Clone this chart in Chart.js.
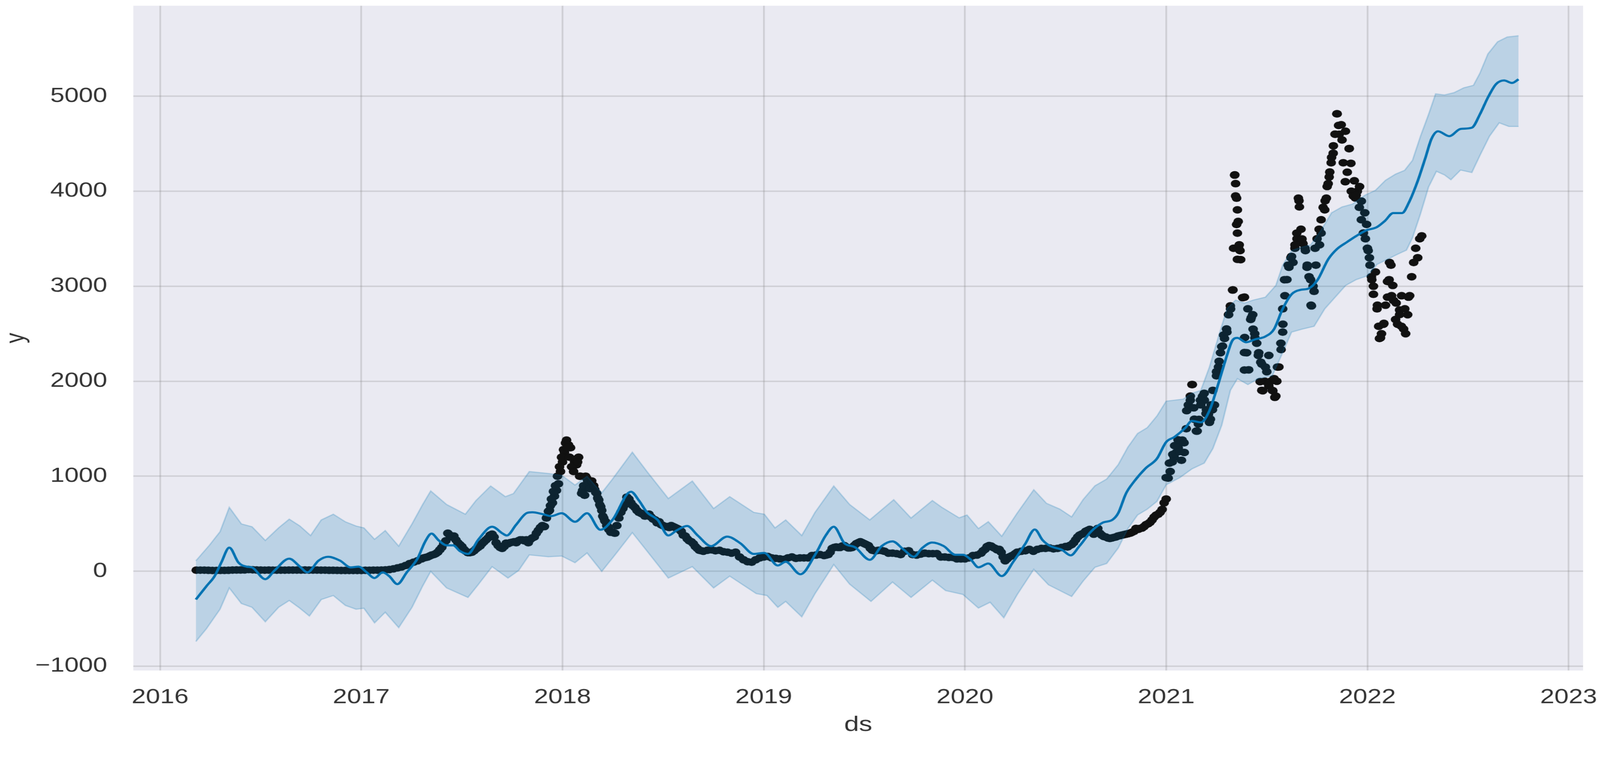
<!DOCTYPE html>
<html>
<head>
<meta charset="utf-8">
<script src="https://cdn.jsdelivr.net/npm/chart.js@4.4.1/dist/chart.umd.min.js"></script>
<style>
html,body{margin:0;padding:0;background:#ffffff;overflow:hidden}
</style>
</head>
<body>
<canvas id="c" width="3313" height="1945" style="display:block;width:100vw;height:calc(100vw * 1945 / 4208)"></canvas>
<script>
// ---------- tick labels ----------
const xTicks = [2016, 2017, 2018, 2019, 2020, 2021, 2022, 2023];
const xTickLabels = ['2016', '2017', '2018', '2019', '2020', '2021', '2022', '2023'];
const yTicks = [-1000, 0, 1000, 2000, 3000, 4000, 5000];
const yTickLabels = ['\u22121000', '0', '1000', '2000', '3000', '4000', '5000'];

// ---------- observed points (y), weekly positions within each year ----------
const weekPos = [0.00,0.02,0.04,0.06,0.08,0.10,0.12,0.14,0.16,0.18,0.20,0.22,0.24,0.26,0.28,0.30,0.32,0.34,0.36,0.38,
  0.40,0.42,0.44,0.46,0.48,0.50,0.52,0.54,0.56,0.58,0.60,0.62,0.64,0.66,0.68,0.70,0.72,0.74,0.76,0.78,
  0.80,0.82,0.84,0.86,0.88,0.90,0.92,0.94,0.96,0.98];
// 2016 starts at weekPos[9] (=0.18)
const obs2016 = [11,11,11,10,8,8,9,9,10,12,13,13,14,18,15,13,12,11,12,11,11,11,11,12,12,12,12,13,12,12,12,11,11,10,10,9,8,8,8,8,8];
const obs2017 = [8,10,10,11,11,12,14,18,25,35,45,60,80,95,110,130,145,160,175,200,
  250,320,380,370,300,260,210,195,215,250,290,330,380,360,270,240,295,300,310,320,
  330,330,335,360,430,480,560,690,790,920];
const obs2018 = [1150,1380,1300,1150,1200,850,980,930,860,750,580,480,410,400,560,660,780,720,670,620,
  600,590,570,540,520,480,470,480,460,440,380,340,310,260,220,210,220,225,215,220,
  205,200,190,200,150,120,100,95,120,140];
const obs2019 = [150,155,140,135,130,125,140,150,135,140,140,140,165,170,175,165,175,240,255,250,
  270,245,250,290,310,290,270,220,215,220,210,190,190,185,175,210,215,175,170,180,
  190,185,185,185,150,150,145,145,130,130];
const obs2020 = [130,140,165,170,190,230,270,250,225,200,110,150,170,200,210,215,230,210,230,240,
  240,245,235,240,250,260,270,300,360,390,420,440,390,450,380,360,345,355,370,380,
  390,400,420,440,455,490,515,570,600,650];
// extra observed points where the reference shows a dense, continuous band
const obsExtraX = [2017.31,2017.33,2017.35,2017.37,2017.39,2017.41,2017.43,2017.45,2017.47,2017.49,2017.51,2017.53,2017.55,2017.57,2017.59,
  2017.61,2017.63,2017.65,2017.67,2017.69,2017.71,2017.73,2017.75,2017.77,2017.79,2017.81,2017.83,2017.85,2017.87,2017.89,2017.91,2017.93,2017.95,2017.97,2017.99,
  2018.01,2018.03,2018.05,2018.07,2018.09,2018.11,2018.13,2018.15,2018.17,2018.19,2018.21,2018.23,2018.25,2018.27,2018.29,2018.31,2018.33,2018.35,
  2018.37,2018.39,2018.41,2018.43,2018.45,2018.47,2018.49,2018.51,2018.53,2018.55,2018.57,2018.59,2018.61,2018.63,2018.65,2018.67,2018.69,
  2019.31,2019.33,2019.35,2019.37,2019.39,2019.41,2019.43,2019.45,2019.47,2019.49,2019.51,2019.53,2019.55,2019.57,2019.59,
  2020.09,2020.11,2020.13,2020.15,2020.17,2020.19,2020.21,2020.23,2020.25,
  2020.51,2020.53,2020.55,2020.57,2020.59,2020.61,2020.63,2020.65,2020.67,2020.69,2020.71,2020.73,2020.75,2020.77,2020.79,2020.81,2020.83,2020.85,
  2020.87,2020.89,2020.91,2020.93,2020.95,2020.97,2020.99,
  2021.01,2021.03,2021.05,2021.07,2021.09,2021.11,2021.17,2021.19,2021.21,2021.23,2021.25,2021.27,2021.29,2021.31,
  2021.43,2021.45,2021.47,2021.49,2021.51,2021.53,2021.55,2021.57,2021.59,2021.61,2021.63,2021.65,
  2021.69,2021.71,2021.73,2021.75,2021.77,2021.79,2021.81,2021.83,2021.95,2021.97,2021.99,2022.01,2022.03];
const obsExtraY = [140,150,170,185,225,290,400,360,330,280,230,195,200,235,265,
  310,350,390,300,250,260,290,305,300,330,320,300,350,400,460,470,630,720,850,1050,
  1250,1330,1100,1120,1000,800,950,880,820,680,530,440,410,480,620,700,760,690,
  640,610,580,600,550,510,490,470,460,470,450,420,370,320,290,240,215,
  170,200,250,250,265,255,245,270,300,300,280,240,215,220,215,
  215,260,265,240,230,150,130,160,185,
  255,280,330,380,400,430,410,430,400,365,350,350,360,375,385,395,410,450,
  450,470,500,540,590,620,720,
  980,1150,1250,1350,1250,1750,1800,1800,1650,1700,2100,2300,2450,2700,
  2700,2400,2200,2000,1950,1900,2000,2400,2900,3200,3250,3500,
  3400,3100,3000,3500,3700,3900,4150,4400,4000,3700,3500,3300,3000];
// dense dots around the January 2018 peak
const obsPeak2018X = [2017.935,2017.945,2017.955,2017.965,2017.975,2017.985,2017.995,2018.005,2018.015,2018.025,
  2018.035,2018.045,2018.055,2018.065,2018.075,2018.085,2018.095,2018.105,2018.115,2018.125,
  2018.135,2018.145,2018.155,2018.165,2018.175,2018.185,2018.195,2018.205,2018.215,2018.225];
const obsPeak2018Y = [640,760,840,900,1000,1100,1200,1280,1350,1300,
  1200,1100,1050,1180,1150,1000,820,900,1000,950,
  870,950,900,830,770,700,640,560,520,470];
// 2021-2022 observed (irregular positions)
const obsLateX = [2021.00,2021.02,2021.04,2021.06,2021.08,2021.10,2021.12,2021.13,2021.14,2021.15,2021.16,2021.18,2021.20,2021.22,2021.24,2021.26,2021.28,2021.30,2021.32,
  2021.33,2021.335,2021.34,2021.345,2021.35,2021.36,2021.37,2021.38,2021.39,2021.40,2021.41,
  2021.42,2021.44,2021.46,2021.48,2021.50,2021.52,2021.54,2021.56,2021.58,2021.60,2021.62,2021.64,2021.66,
  2021.67,2021.68,2021.70,2021.72,2021.74,2021.76,2021.78,2021.80,2021.82,2021.84,
  2021.85,2021.86,2021.87,2021.88,2021.89,2021.90,2021.91,2021.92,2021.93,2021.94,2021.96,2021.98,
  2022.00,2022.02,2022.04,2022.05,2022.06,2022.07,2022.08,2022.09,2022.10,2022.11,2022.12,2022.13,2022.14,
  2022.15,2022.16,2022.17,2022.18,2022.19,2022.20,2022.21,2022.22,2022.23,2022.24,2022.25,2022.26,2022.27];
const obsLateY = [760,1050,1200,1300,1380,1500,1800,1965,1600,1475,1550,1840,1700,1600,1750,2150,2370,2550,2760,
  2960,3400,4170,3950,3650,3400,3280,2880,2460,2300,2120,
  2650,2500,2300,1900,2100,2000,1830,2150,2600,3070,3300,3400,3900,
  3600,3450,3200,2800,3400,3600,3830,4050,4300,4600,
  4815,4600,4700,4300,4100,4200,4450,4000,3950,3930,3830,3560,
  3400,3100,3150,2800,2450,2500,2600,2800,3050,3250,2900,2850,2650,
  2600,2750,2900,2550,2500,2700,2900,3100,3250,3400,3300,3500,3530];
// further dots read from the dense 2021-2022 clusters
const obsDenseX = [2021.000,2021.016,2021.033,2021.042,2021.059,2021.068,2021.076,2021.089,2021.102,2021.120,
  2021.128,2021.137,2021.154,2021.163,2021.172,2021.189,2021.198,2021.215,2021.224,2021.232,
  2021.250,2021.263,2021.276,2021.285,2021.302,2021.310,2021.319,2021.332,2021.341,2021.345,
  2021.350,2021.354,2021.358,2021.354,2021.363,2021.367,2021.354,2021.389,2021.406,2021.423,
  2021.432,2021.441,2021.389,2021.389,2021.458,2021.475,2021.493,2021.510,2021.467,2021.475,
  2021.527,2021.545,2021.536,2021.553,2021.571,2021.579,2021.579,2021.588,2021.606,2021.623,
  2021.640,2021.649,2021.657,2021.662,2021.675,2021.692,2021.701,2021.718,2021.722,2021.735,
  2021.744,2021.762,2021.770,2021.788,2021.796,2021.805,2021.813,2021.822,2021.831,2021.839,
  2021.848,2021.857,2021.874,2021.891,2021.909,2021.918,2021.935,2021.944,2021.961,2021.970,
  2021.987,2021.996,2022.004,2022.013,2022.022,2022.030,2022.048,2022.056,2022.065,2022.082,
  2022.100,2022.108,2022.117,2022.126,2022.143,2022.160,2022.169,2022.186,2022.204];
const obsDenseY = [985,1138,1230,1322,1383,1260,1168,1352,1690,1843,
  1965,1720,1475,1598,1751,1873,1659,1567,1751,1904,
  2057,2210,2364,2486,2517,2701,2793,2961,4172,4080,
  3927,3804,3682,3559,3436,3375,3283,2885,2762,2670,
  2548,2456,2302,2118,2272,2180,2149,2272,1996,1904,
  1904,1843,2027,2149,2333,2517,2762,3069,3222,3314,
  3436,3559,3927,3835,3498,3375,3222,3069,2793,2946,
  3222,3436,3559,3804,3927,4080,4202,4356,4478,4601,
  4815,4693,4540,4632,4448,4294,4110,3957,4049,3896,
  3773,3651,3375,3222,3069,2915,2762,2578,2456,2609,
  2885,3069,3222,3008,2823,2701,2578,2762,2885];

// ---------- forecast (yhat) ----------
const fcX = [2016.178,2016.231,2016.271,2016.304,2016.344,2016.390,2016.430,2016.457,2016.523,2016.569,2016.642,2016.695,2016.732,2016.788,2016.835,2016.894,2016.947,2016.987,
  2017.027,2017.066,2017.106,2017.139,2017.179,2017.226,2017.279,2017.318,2017.349,2017.385,2017.424,2017.457,2017.490,2017.530,2017.583,2017.650,2017.703,2017.723,2017.769,2017.822,2017.850,2017.903,2017.943,2017.996,
  2018.062,2018.122,2018.188,2018.248,2018.340,2018.380,2018.420,2018.473,2018.526,2018.566,2018.619,2018.672,2018.738,2018.818,2018.884,2018.950,
  2019.003,2019.070,2019.109,2019.182,2019.255,2019.308,2019.348,2019.401,2019.454,2019.527,2019.586,2019.640,2019.693,2019.746,2019.788,2019.836,2019.894,2019.952,2019.990,
  2020.029,2020.067,2020.116,2020.183,2020.241,2020.299,2020.347,2020.386,2020.424,2020.482,2020.525,2020.569,2020.627,2020.684,2020.733,2020.762,2020.800,2020.839,2020.897,2020.954,
  2021.000,2021.042,2021.094,2021.128,2021.172,2021.215,2021.258,2021.302,2021.328,2021.354,2021.397,2021.441,2021.493,2021.536,2021.579,2021.623,2021.666,2021.709,2021.753,2021.805,2021.848,2021.900,2021.944,2021.996,
  2022.045,2022.088,2022.128,2022.172,2022.206,2022.248,2022.288,2022.319,2022.351,2022.407,2022.463,2022.519,2022.559,2022.599,2022.639,2022.679,2022.719,2022.751];
const fcY = [-298,-156,-52,90,248,90,48,40,-84,8,132,48,-12,112,152,112,40,48,
  -12,-72,-12,-52,-136,-12,132,314,396,324,272,272,212,182,336,468,396,376,488,612,620,600,580,610,
  520,610,436,540,837,744,620,540,376,428,476,376,264,364,294,182,
  192,60,100,-32,172,376,468,294,252,120,264,314,232,152,245,302,265,173,173,
  122,41,81,-51,102,286,439,327,265,225,167,265,418,510,541,613,817,940,1082,1185,
  1360,1414,1506,1582,1567,1690,1965,2272,2425,2456,2410,2440,2471,2548,2762,2915,2961,2977,3069,3283,3390,3467,3528,3590,
  3620,3690,3770,3770,3880,4096,4350,4554,4631,4580,4656,4669,4809,4987,5127,5166,5140,5178];

// ---------- uncertainty band ----------
const upX = [2016.178,2016.245,2016.298,2016.344,2016.404,2016.457,2016.523,2016.589,2016.642,2016.695,2016.748,2016.801,2016.861,2016.921,2016.974,
  2017.013,2017.066,2017.119,2017.186,2017.252,2017.305,2017.345,2017.424,2017.517,2017.570,2017.643,2017.716,2017.756,2017.835,2017.930,2017.996,
  2018.062,2018.122,2018.195,2018.248,2018.347,2018.420,2018.526,2018.645,2018.751,2018.831,2018.950,
  2019.003,2019.056,2019.109,2019.189,2019.255,2019.348,2019.427,2019.527,2019.646,2019.732,2019.838,2019.884,2019.971,
  2020.010,2020.067,2020.116,2020.183,2020.260,2020.342,2020.405,2020.472,2020.530,2020.588,2020.646,2020.704,2020.762,2020.810,2020.858,2020.906,2020.954,
  2021.000,2021.085,2021.128,2021.172,2021.215,2021.258,2021.302,2021.345,2021.389,2021.432,2021.493,2021.545,2021.579,2021.623,2021.666,2021.718,2021.770,2021.822,2021.874,2021.926,2021.987,
  2022.040,2022.090,2022.140,2022.185,2022.224,2022.264,2022.304,2022.339,2022.383,2022.431,2022.479,2022.527,2022.559,2022.599,2022.647,2022.695,2022.751];
const upY = [110,273,416,672,498,468,324,456,548,476,376,540,600,520,476,
  456,336,428,264,498,702,845,702,600,744,897,785,817,1049,1029,1009,
  907,999,825,969,1253,1049,765,949,660,785,620,
  600,456,540,376,620,897,702,540,753,560,744,674,562,
  592,449,521,368,613,858,715,653,572,756,899,970,1123,1307,1450,1511,1634,
  1790,1812,1873,1904,2149,2456,2762,2854,2823,2854,2885,3008,3222,3375,3406,3436,3590,3773,3835,3865,3957,
  4010,4115,4180,4220,4325,4580,4809,5025,5013,5038,5089,5115,5242,5446,5573,5624,5637];
const loX = [2016.178,2016.231,2016.298,2016.344,2016.404,2016.457,2016.523,2016.589,2016.642,2016.695,2016.742,2016.801,2016.861,2016.921,2016.974,
  2017.013,2017.066,2017.119,2017.186,2017.252,2017.305,2017.345,2017.424,2017.530,2017.583,2017.650,2017.729,2017.782,2017.835,2017.930,2017.996,
  2018.062,2018.122,2018.195,2018.261,2018.347,2018.420,2018.526,2018.645,2018.751,2018.831,2018.963,
  2019.016,2019.070,2019.109,2019.189,2019.255,2019.348,2019.427,2019.533,2019.640,2019.732,2019.838,2019.904,2019.990,
  2020.067,2020.125,2020.193,2020.260,2020.342,2020.415,2020.530,2020.588,2020.646,2020.704,2020.762,2020.810,2020.858,2020.906,2020.954,
  2021.000,2021.068,2021.128,2021.189,2021.232,2021.276,2021.319,2021.354,2021.406,2021.458,2021.527,2021.579,2021.623,2021.675,2021.735,2021.788,2021.840,2021.892,2021.944,
  2022.000,2022.048,2022.096,2022.148,2022.194,2022.224,2022.264,2022.304,2022.343,2022.383,2022.415,2022.463,2022.519,2022.559,2022.607,2022.655,2022.703,2022.751];
const loY = [-740,-604,-400,-176,-340,-380,-532,-380,-308,-390,-472,-298,-256,-360,-400,
  -390,-544,-432,-594,-380,-156,-2,-176,-276,-136,48,-72,8,172,152,160,
  90,192,-2,172,406,212,-72,48,-176,-52,-236,
  -256,-380,-318,-480,-236,70,-136,-318,-114,-276,-94,-204,-245,
  -388,-327,-490,-245,20,-143,-266,-102,41,81,245,449,592,653,735,
  910,985,1077,1138,1291,1536,1904,2027,1965,2027,2057,2302,2517,2548,2578,2762,2885,3008,3069,
  3110,3230,3280,3335,3380,3510,3764,4045,4210,4172,4121,4223,4197,4376,4580,4720,4682,4682];

// ---------- build point lists ----------
function pairs(xs, ys) { return xs.map((x, i) => ({ x: x, y: ys[i] })); }
function yearPts(year, vals, offset) { return vals.map((v, i) => ({ x: year + weekPos[i + offset], y: v })); }

const obsPts = [].concat(
  yearPts(2016, obs2016, 9),
  yearPts(2017, obs2017, 0),
  yearPts(2018, obs2018, 0),
  yearPts(2019, obs2019, 0),
  yearPts(2020, obs2020, 0),
  pairs(obsExtraX, obsExtraY),
  pairs(obsPeak2018X, obsPeak2018Y),
  pairs(obsLateX, obsLateY),
  pairs(obsDenseX, obsDenseY)
);

const FONT = "'Liberation Sans', Arial, sans-serif";
const TXT = '#333333';
const GRID = 'rgba(128,128,128,0.26)';
const BLUE = '#0072B2';

const bgPlugin = {
  id: 'plotBg',
  beforeDraw(chart) {
    const a = chart.chartArea;
    const ctx = chart.ctx;
    ctx.save();
    ctx.fillStyle = '#EAEAF2';
    ctx.fillRect(a.left, a.top, a.right - a.left, a.bottom - a.top);
    ctx.restore();
  }
};

function zeroPad(s) { s.paddingLeft = 0; s.paddingRight = 0; s.paddingTop = 0; s.paddingBottom = 0; }

new Chart(document.getElementById('c'), {
  type: 'scatter',
  data: {
    datasets: [
      { label: 'lower', data: pairs(loX, loY), showLine: true, fill: false, pointRadius: 0,
        borderColor: 'rgba(0,114,178,0.22)', borderWidth: 3, tension: 0 },
      { label: 'upper', data: pairs(upX, upY), showLine: true, fill: '-1', pointRadius: 0,
        borderColor: 'rgba(0,114,178,0.22)', borderWidth: 3, backgroundColor: 'rgba(0,114,178,0.2)', tension: 0 },
      { label: 'Forecast', data: pairs(fcX, fcY), showLine: true, fill: false, pointRadius: 0,
        borderColor: BLUE, borderWidth: 5.5, cubicInterpolationMode: 'monotone' },
      { label: 'Observed data points', data: obsPts, showLine: false, fill: false,
        pointRadius: 10, pointBorderWidth: 0, pointBackgroundColor: '#111111', pointBorderColor: '#111111' }
    ]
  },
  options: {
    responsive: false,
    devicePixelRatio: 1,
    animation: false,
    events: [],
    layout: { padding: { left: 0, right: 35, top: 15, bottom: 0 } },
    plugins: { legend: { display: false }, tooltip: { enabled: false } },
    scales: {
      x: {
        type: 'linear', min: 2015.867, max: 2023.072,
        afterBuildTicks: s => { s.ticks = xTicks.map(v => ({ value: v })); },
        afterFit: s => { s.height = 182; zeroPad(s); },
        grid: { color: GRID, lineWidth: 3.5, drawTicks: false },
        border: { display: false },
        ticks: { padding: 40, autoSkip: false, maxRotation: 0, color: TXT,
          font: { family: FONT, size: 53 },
          callback: v => xTickLabels[xTicks.indexOf(v)] },
        title: { display: true, text: 'ds', color: TXT,
          font: { family: FONT, size: 55, lineHeight: 0.82 }, padding: { top: 0, bottom: 16 } }
      },
      y: {
        type: 'linear', min: -1045, max: 5953,
        afterBuildTicks: s => { s.ticks = yTicks.map(v => ({ value: v })); },
        afterFit: s => { s.width = 276; zeroPad(s); },
        grid: { color: GRID, lineWidth: 3.5, drawTicks: false },
        border: { display: false },
        ticks: { padding: 54, autoSkip: false, color: TXT,
          font: { family: FONT, size: 53 },
          callback: v => yTickLabels[yTicks.indexOf(v)] },
        title: { display: true, text: 'y', color: TXT,
          font: { family: FONT, size: 55, lineHeight: 0.82 }, padding: { top: 11, bottom: 0 } }
      }
    }
  },
  plugins: [bgPlugin]
});
</script>
</body>
</html>
